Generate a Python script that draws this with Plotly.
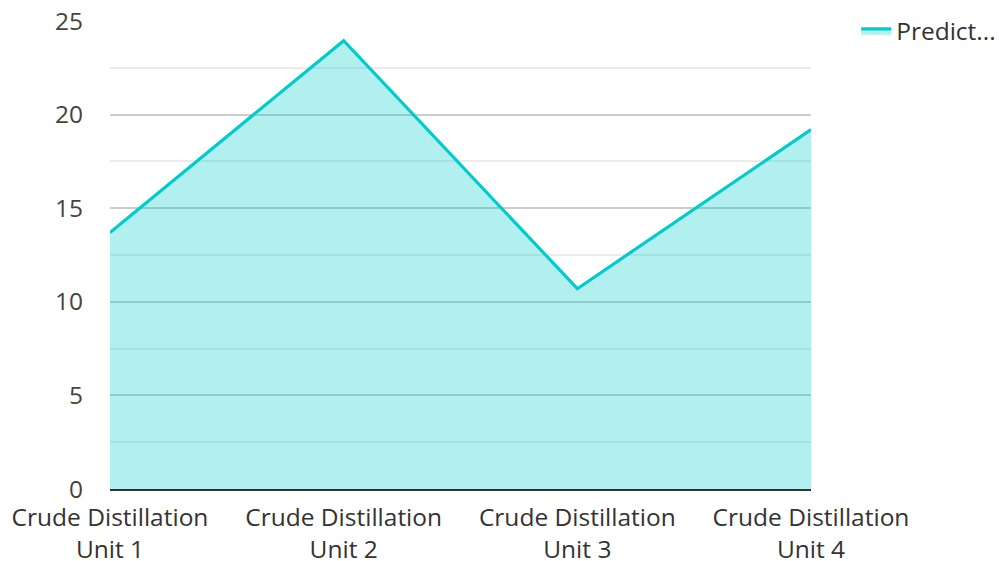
import plotly.graph_objects as go

categories = ["Crude Distillation<br>Unit 1", "Crude Distillation<br>Unit 2",
              "Crude Distillation<br>Unit 3", "Crude Distillation<br>Unit 4"]
values = [13.7, 23.95, 10.7, 19.2]
series_name = "Predict..."
y_ticks = [0, 5, 10, 15, 20, 25]

fig = go.Figure()
fig.add_trace(go.Scatter(
    x=categories, y=values, name=series_name, mode="lines",
    line=dict(color="#00cccc", width=3.2),
    fill="tozeroy", fillcolor="rgba(0,204,204,0.3)",
))

font_family = "Open Sans"
fig.update_layout(
    width=999, height=561,
    margin=dict(l=110, r=188, t=21, b=72),
    paper_bgcolor="white", plot_bgcolor="white",
    font=dict(family=font_family, size=24, color="#444"),
    showlegend=True,
    legend=dict(xref="container", yref="container", x=0.857, y=0.985,
                xanchor="left", yanchor="top",
                font=dict(size=24.5, color="#333"), bgcolor="rgba(0,0,0,0)"),
    xaxis=dict(
        range=[0, 3], showgrid=False, showline=True, linecolor="#333",
        linewidth=2, ticks="", tickfont=dict(size=24.5, color="#333"),
        zeroline=False, automargin=False, ticklabelstandoff=6,
    ),
    yaxis=dict(
        range=[0, 25], tickvals=y_ticks, showgrid=True, gridcolor="#cccccc",
        gridwidth=1.5, zeroline=False, showline=False, automargin=False,
        ticklabelstandoff=26, tickfont=dict(size=24.5, color="#444"),
        minor=dict(dtick=2.5, showgrid=True, gridcolor="#ebebeb", gridwidth=1.5),
    ),
)

fig.write_html(
    "out.html",
    config={"displayModeBar": False},
    post_script="document.body.style.margin='0';document.body.style.overflow='hidden';",
)
